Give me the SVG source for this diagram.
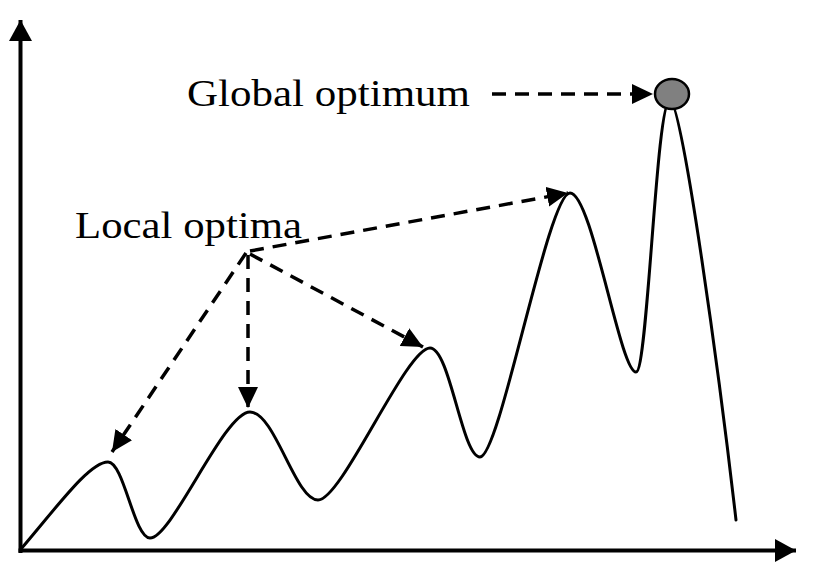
<svg xmlns="http://www.w3.org/2000/svg" width="830" height="572" viewBox="0 0 830 572">
  <style>
    .lbl { font-family: "Liberation Serif", "Times New Roman", serif; font-size: 38px; fill: #000; }
    .axis { stroke: #000; stroke-width: 4; fill: none; }
    .curve { stroke: #000; stroke-width: 3; fill: none; stroke-linejoin: round; stroke-linecap: round; }
    .dash { stroke: #000; stroke-width: 3.5; fill: none; stroke-dasharray: 14 9; marker-end: url(#head); }
  </style>
  <defs>
    <marker id="head" markerUnits="userSpaceOnUse" markerWidth="22" markerHeight="20" refX="21" refY="10" orient="auto" viewBox="0 0 22 20">
      <path d="M0,0 L21,10 L0,20 Z" fill="#000"/>
    </marker>
    <marker id="axhead" markerUnits="userSpaceOnUse" markerWidth="22" markerHeight="23" refX="21" refY="11.5" orient="auto" viewBox="0 0 22 23">
      <path d="M0,0 L21,11.5 L0,23 Z" fill="#000"/>
    </marker>
  </defs>

  <g id="axes">
    <path class="axis" d="M20.5,553 L20.5,20" marker-end="url(#axhead)"/>
    <path class="axis" d="M18.5,550.5 L796,550.5" marker-end="url(#axhead)"/>
  </g>

  <g id="landscape">
    <path class="curve" d="M21,549 C60,503 90,462 108,462 C124,462 134,538 150,538 C172,538 224,412 250,412 C275,412 295,500 318,500 C342,500 406,348 430,348 C450,348 462,457 480,457 C500,457 548,193 570,193 C592,193 620,372 636,372 C648,372 656,100 670,100 C682,100 720,380 736,520"/>
  </g>

  <g id="global-optimum">
    <ellipse cx="672" cy="94" rx="17" ry="15" fill="#808080" stroke="#000" stroke-width="2.5"/>
  </g>

  <g id="label-global">
    <text class="lbl" x="187" y="106" textLength="283" lengthAdjust="spacingAndGlyphs">Global optimum</text>
  </g>

  <g id="label-local">
    <text class="lbl" x="75" y="238" textLength="227" lengthAdjust="spacingAndGlyphs">Local optima</text>
  </g>

  <g id="connectors">
    <path class="dash" d="M492,94 L653,94"/>
    <path class="dash" d="M246,253 L112,452"/>
    <path class="dash" d="M248,255 L248,408"/>
    <path class="dash" d="M250,254 L423,347"/>
    <path class="dash" d="M250,251 L568,193"/>
  </g>
</svg>
